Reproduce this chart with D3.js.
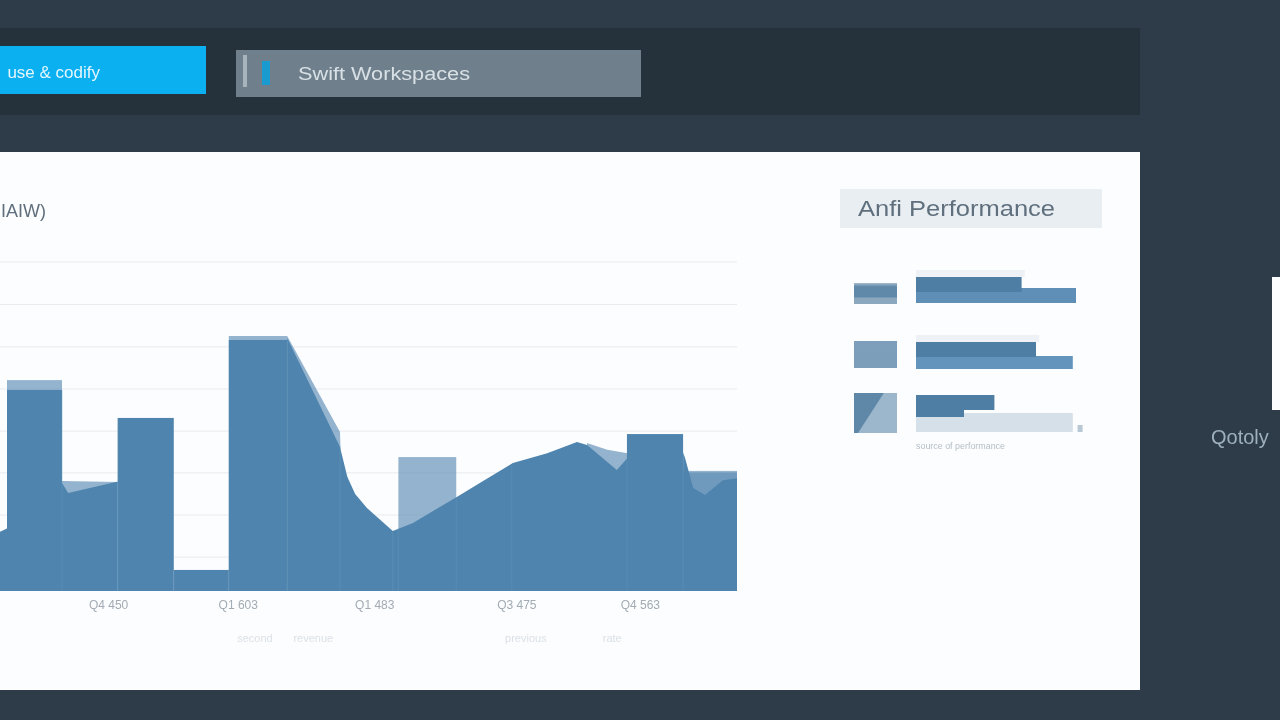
<!DOCTYPE html>
<html>
<head>
<meta charset="utf-8">
<script src="https://cdn.jsdelivr.net/npm/d3@7"></script>
<style>
  html, body { margin: 0; padding: 0; background: #2e3c49; overflow: hidden; }
  svg { display: block; filter: blur(0.7px); }
  text { font-family: "Liberation Sans", Arial, sans-serif; }
  .eje path, .eje line { display: none; }
</style>
</head>
<body>
<div id="graf"></div>
<script>
// I. Datos
// desde/hasta en unidades de banda
const barrasOscuras = [
  { desde: 0, hasta: 0.98, valor: 61.1 },
  { desde: 1.97, hasta: 2.97, valor: 52.6 },
  { desde: 2.97, hasta: 3.95, valor: 6.4 },
  { desde: 3.95, hasta: 4.99, valor: 76.3 },
  { desde: 11.04, hasta: 12.04, valor: 47.7 }
]
const barrasClaras = [
  { desde: 0, hasta: 0.98, valor: 64.1 },
  { desde: 3.95, hasta: 4.99, valor: 77.5 },
  { desde: 6.97, hasta: 8, valor: 40.7 },
  { desde: 12.04, hasta: 13, valor: 36.5 }
]

// area: null corta el trazo
const areaOscuraX = [-0.25, 0, null, 0.98, 1.09, 1.94, 1.97, null, 4.99, 5.93, 6.06, 6.2, 6.41, 6.87, 7.23, 8.01, 8.42, 9.01, 9.62, 10.15, 10.33, 10.86, 11.05, null, 12.04, 12.07, 12.22, 12.43, 12.75, 13]
const areaOscuraV = [17, 19, null, 32.8, 29.8, 33.1, 33.3, null, 76.9, 43.8, 34.7, 29.5, 25.2, 18.2, 20.7, 28.6, 32.8, 38.9, 41.9, 45.3, 44.4, 36.8, 40.4, null, 42, 40.7, 31.3, 29.2, 33.7, 34.3]

const areaClaraX = [0.98, 1.97, null, 4.99, 5.93, 5.94, null, 10.33, 10.69, 11.05, null, 12.04, 13]
const areaClaraV = [33.4, 33.1, null, 77.5, 48.3, 43, null, 45, 42.9, 41.9, null, 36, 36]

// costuras entre bandas
const costuraX = [0.98, 1.97, 2.97, 3.95, 4.99, 5.93, 6.87, 6.97, 8, 8.99, 11.04, 12.04]
const costuraV = [61, 33, 6, 6, 76, 44, 18, 19, 28, 38, 40, 42]

const rejilla = [10.3, 23.1, 35.9, 48.6, 61.4, 74.2, 87.1, 100]

const etiquetasPos = [1.8, 4.11, 6.54, 9.07, 11.27]
const etiquetasX = ['Q4 450', 'Q1 603', 'Q1 483', 'Q3 475', 'Q4 563']

const leyendaPos = [4.1, 5.1, 8.87, 10.61]
const leyenda = ['second', 'revenue', 'previous', 'rate']

const filas = ['a', 'b', 'c']
const ladoArriba = [66, 75, 49]
const ladoMedio = [100, 98, 30]
const ladoAbajo = [0, 0, 98]

// II. Configuracion
const colorOscuro = '#4e84ae'
const colorClaro = '#5c8db5'

const svg = d3.select('#graf').append('svg')
  .attr('width', 1280)
  .attr('height', 720)

const x = d3.scaleLinear().domain([0, 13]).range([7, 737])
const y = d3.scaleLinear().domain([0, 100]).range([591, 262])

const defs = svg.append('defs')

function gradiente(id, x2, y2, paradas) {
  const g = defs.append('linearGradient').attr('id', id)
    .attr('x1', 0).attr('y1', 0).attr('x2', x2).attr('y2', y2)
  paradas.forEach(p => g.append('stop').attr('offset', p[0]).attr('stop-color', p[1]))
}
gradiente('mues0', 0, 1, [[0, '#a9bccb'], [0.18, '#5f88a9'], [0.68, '#5f88a9'], [0.7, '#8ba8bf'], [1, '#8ba8bf']])
gradiente('mues1', 0, 1, [[0, '#7e9fbb'], [1, '#7c9dba']])
gradiente('mues2', 1, 0.6, [[0, '#5f87a8'], [0.5, '#5f87a8'], [0.52, '#9cb7cc'], [1, '#9cb7cc']])

// III. Fondo y barra superior
svg.append('rect').attr('width', 1280).attr('height', 720).attr('fill', '#2e3c49')
svg.append('rect').attr('x', 0).attr('y', 28).attr('width', 1140).attr('height', 87).attr('fill', '#25313b')
svg.append('rect').attr('x', 0).attr('y', 46).attr('width', 206).attr('height', 48).attr('fill', '#0bb0f0')
svg.append('rect').attr('x', 236).attr('y', 50).attr('width', 405).attr('height', 47).attr('fill', '#6f808c')
svg.append('rect').attr('x', 243).attr('y', 55).attr('width', 4).attr('height', 32).attr('fill', '#a8b4bc')
svg.append('rect').attr('x', 262).attr('y', 61).attr('width', 8).attr('height', 24).attr('fill', '#1a9bd0')

svg.append('text').attr('x', 100).attr('y', 78).attr('text-anchor', 'end')
  .attr('font-size', 17).attr('fill', '#e4f6fd').text('use & codify')
svg.append('text').attr('x', 298).attr('y', 80)
  .attr('font-size', 18).attr('fill', '#d8e0e5')
  .attr('textLength', 172).attr('lengthAdjust', 'spacingAndGlyphs').text('Swift Workspaces')

// IV. Tarjeta
svg.append('rect').attr('x', 0).attr('y', 152).attr('width', 1140).attr('height', 538).attr('fill', '#fcfdfe')

svg.append('text').attr('x', 1).attr('y', 217)
  .attr('font-size', 18).attr('fill', '#5f6f7d').text('IAIW)')

svg.append('g').selectAll('line')
  .data(rejilla)
  .enter().append('line')
    .attr('x1', 0)
    .attr('x2', x(13))
    .attr('y1', d => y(d))
    .attr('y2', d => y(d))
    .attr('stroke', '#e8ebef')
    .attr('stroke-width', 1)

// barras claras y area clara atras
svg.append('g').selectAll('rect')
  .data(barrasClaras)
  .enter().append('rect')
    .attr('x', d => x(d.desde))
    .attr('y', d => y(d.valor))
    .attr('width', d => x(d.hasta) - x(d.desde))
    .attr('height', d => y(0) - y(d.valor))
    .attr('fill', colorClaro)
    .attr('opacity', 0.66)

function dibujaArea(xs, vs, color, op) {
  const puntos = xs.map((d, i) => ({ x: d, v: vs[i] }))
  const area = d3.area()
    .defined(d => d.x !== null)
    .x(d => x(d.x))
    .y0(y(0))
    .y1(d => y(d.v))
  svg.append('path')
    .attr('d', area(puntos))
    .attr('fill', color)
    .attr('opacity', op)
}
dibujaArea(areaClaraX, areaClaraV, colorClaro, 0.66)
dibujaArea(areaOscuraX, areaOscuraV, colorOscuro, 1)

svg.append('g').selectAll('rect')
  .data(barrasOscuras)
  .enter().append('rect')
    .attr('x', d => x(d.desde))
    .attr('y', d => y(d.valor))
    .attr('width', d => x(d.hasta) - x(d.desde))
    .attr('height', d => y(0) - y(d.valor))
    .attr('fill', colorOscuro)

svg.append('g').selectAll('line')
  .data(costuraX)
  .enter().append('line')
    .attr('x1', d => x(d))
    .attr('x2', d => x(d))
    .attr('y1', y(0))
    .attr('y2', (d, i) => y(costuraV[i]))
    .attr('stroke', '#6c9cc1')
    .attr('stroke-width', 1)
    .attr('opacity', 0.35)

const ejeX = d3.axisBottom(x)
  .tickValues(etiquetasPos)
  .tickFormat((d, i) => etiquetasX[i])
  .tickSize(0)
  .tickPadding(9)

svg.append('g')
  .attr('class', 'eje')
  .attr('transform', `translate(0, ${ y(0) })`)
  .call(ejeX)
  .selectAll('text')
    .attr('font-size', 12)
    .attr('fill', '#a2abb3')

svg.append('g').selectAll('text')
  .data(leyenda)
  .enter().append('text')
    .attr('x', (d, i) => x(leyendaPos[i]))
    .attr('y', 642)
    .attr('font-size', 11)
    .attr('fill', '#dbe1e6')
    .text(d => d)

// V. Panel derecho
svg.append('rect').attr('x', 840).attr('y', 189).attr('width', 262).attr('height', 39).attr('fill', '#e9eef2')
svg.append('text').attr('x', 858).attr('y', 216)
  .attr('font-size', 22).attr('fill', '#5f6f7d')
  .attr('textLength', 197).attr('lengthAdjust', 'spacingAndGlyphs').text('Anfi  Performance')

const xLado = d3.scaleLinear().domain([0, 100]).range([916, 1076])
const yFila = d3.scaleOrdinal().domain(filas).range([277, 342, 395])
const yMedio = d3.scaleOrdinal().domain(filas).range([288, 356, 410])
const altoMedio = d3.scaleOrdinal().domain(filas).range([15, 13, 7])
const colorMedio = d3.scaleOrdinal().domain(filas).range(['#5f8fb6', '#6394bb', '#4f7ea4'])
const yMuestra = d3.scaleOrdinal().domain(filas).range([283, 341, 393])
const altoMuestra = d3.scaleOrdinal().domain(filas).range([21, 27, 40])

svg.append('g').selectAll('rect')
  .data(filas)
  .enter().append('rect')
    .attr('x', 854)
    .attr('y', d => yMuestra(d))
    .attr('width', 43)
    .attr('height', d => altoMuestra(d))
    .attr('fill', (d, i) => `url(#mues${ i })`)

// halo claro encima de las dos primeras filas
svg.append('g').selectAll('rect')
  .data(filas.slice(0, 2))
  .enter().append('rect')
    .attr('x', xLado(0))
    .attr('y', d => yFila(d) - 7)
    .attr('width', (d, i) => xLado(ladoArriba[i] + 2) - xLado(0))
    .attr('height', 7)
    .attr('fill', '#eef2f6')

// barra clara de la tercera fila
svg.append('g').selectAll('rect')
  .data(filas.filter((d, i) => ladoAbajo[i] > 0))
  .enter().append('rect')
    .attr('x', xLado(0))
    .attr('y', d => yFila(d) + 18)
    .attr('width', d => xLado(ladoAbajo[filas.indexOf(d)]) - xLado(0))
    .attr('height', 19)
    .attr('fill', '#d5e0e8')

svg.append('rect').attr('x', xLado(101)).attr('y', 425).attr('width', 5).attr('height', 7).attr('fill', '#b8c8d4')

svg.append('g').selectAll('rect')
  .data(filas)
  .enter().append('rect')
    .attr('x', xLado(0))
    .attr('y', d => yMedio(d))
    .attr('width', (d, i) => xLado(ladoMedio[i]) - xLado(0))
    .attr('height', d => altoMedio(d))
    .attr('fill', d => colorMedio(d))

svg.append('g').selectAll('rect')
  .data(filas)
  .enter().append('rect')
    .attr('x', xLado(0))
    .attr('y', d => yFila(d))
    .attr('width', (d, i) => xLado(ladoArriba[i]) - xLado(0))
    .attr('height', 15)
    .attr('fill', '#4f7ea4')

svg.append('text').attr('x', 916).attr('y', 449)
  .attr('font-size', 9).attr('fill', '#b4bec6')
  .attr('textLength', 89).attr('lengthAdjust', 'spacingAndGlyphs').text('source of performance')

// VI. Margen derecho
svg.append('rect').attr('x', 1272).attr('y', 277).attr('width', 8).attr('height', 133).attr('fill', '#fcfdfe')
svg.append('text').attr('x', 1211).attr('y', 444)
  .attr('font-size', 20).attr('fill', '#9db0bb').text('Qotoly')
</script>
</body>
</html>
